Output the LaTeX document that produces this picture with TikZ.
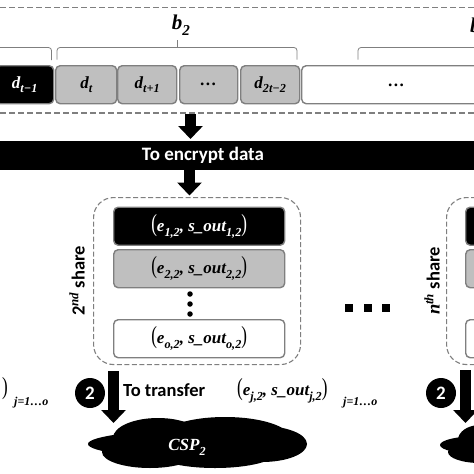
\documentclass[tikz,border=0pt]{standalone}
\usepackage{fontspec}
\setmainfont{Carlito}
\newfontfamily\mth{Liberation Serif}
\usetikzlibrary{arrows.meta}
\definecolor{lnk}{HTML}{7F7F7F}
\definecolor{cellg}{HTML}{BFBFBF}
\newcommand{\mv}[1]{{\mth\bfseries\itshape #1}}
\newcommand{\tsub}[2]{\mv{#1}\raisebox{-0.28em}{\scalebox{0.72}{\mv{#2}}}}
\tikzset{
 cell/.style={draw=lnk,line width=1.4pt,rounded corners=4.5pt,minimum height=38pt,inner sep=0pt,anchor=north west,font=\fontsize{17}{17}\selectfont},
 cblack/.style={cell,fill=black,text=white},
 cgray/.style={cell,fill=cellg,text=black},
 cwhite/.style={cell,fill=white,text=black},
 dashln/.style={draw=lnk,line width=1.2pt,dash pattern=on 6pt off 3pt},
 sharebox/.style={draw=lnk,line width=1.1pt,dash pattern=on 5pt off 2.5pt,rounded corners=20pt},
 brace/.style={draw=lnk,line width=0.8pt,rounded corners=3pt},
 blockarrow/.style={draw=black,line width=10.5pt,-{Triangle[length=13pt,width=24pt]}},
 num/.style={circle,fill=black,text=white,minimum size=30pt,inner sep=0pt,font=\fontsize{19}{19}\selectfont\bfseries},
 lab/.style={font=\fontsize{18.5}{18.5}\selectfont\bfseries,inner sep=0pt},
 mathlab/.style={font=\fontsize{17}{17}\selectfont,inner sep=0pt},
 cloudp/.style={fill=black,draw=none},
}
\newcommand{\pair}[2]{\scalebox{1.0}[1.45]{\mth(}\mv{e}\raisebox{-0.28em}{\scalebox{0.72}{\mv{#1}}}\mv{, s\_out}\raisebox{-0.28em}{\scalebox{0.72}{\mv{#2}}}\scalebox{1.0}[1.45]{\mth)}}
\begin{document}
\begin{tikzpicture}[x=1pt,y=-1pt]
\useasboundingbox (0,0) rectangle (474,474);
\clip (0,0) rectangle (474,474);
% dashed lines
\coordinate (t1) at (0,7.5); \coordinate (t2) at (474,7.5);
\coordinate (u1) at (0,113); \coordinate (u2) at (474,113);
\draw[dashln] (t1) -- (t2);
\draw[dashln] (u1) -- (u2);
% row of cells
\node[cblack,minimum width=58pt] (c0) at (-5,65) {\tsub{d}{t−1}};
\node[cgray,minimum width=61pt] (c1) at (55,65) {\tsub{d}{t}};
\node[cgray,minimum width=59pt] (c2) at (117,65) {\tsub{d}{t+1}};
\node[cgray,minimum width=58pt] (c3) at (179,65) {\mv{…}};
\node[cgray,minimum width=59pt] (c4) at (240,65) {\tsub{d}{2t−2}};
\node[cwhite,minimum width=190pt] (c5) at (301,65) {\raisebox{-3pt}{\mv{…}}};
% braces
\draw[brace] (-5,47.5) -- (51.5,47.5) -- (51.5,60);
\draw[brace] (57,59.5) -- (57,47.5) -- (297,47.5) -- (297,59.5);
\draw[brace] (177,47.5) -- (177,40);
\draw[brace] (358,59.5) -- (358,47.5) -- (480,47.5);
\node[font=\fontsize{21}{21}\selectfont,inner sep=0pt] (b2) at (181,25) {\tsub{b}{2}};
\node[font=\fontsize{21}{21}\selectfont,inner sep=0pt,anchor=west] (bn) at (470,25) {\mv{b}};
% band
\node[fill=black,text=white,minimum width=480pt,minimum height=29pt,inner sep=0pt,font=\fontsize{19}{19}\selectfont\bfseries] (band) at (237,155.5) {\hspace{-68pt}To encrypt data};
\coordinate (a0) at (190.5,114);
\draw[blockarrow] (a0) -- (190.5,139);
\coordinate (a1) at (189.5,170);
\draw[blockarrow] (band.south -| a1) -- (189.5,195.5);
% second share
\node[sharebox,minimum width=207pt,minimum height=167pt,inner sep=0pt,anchor=north west] (s2) at (93,197) {};
\node[cblack,minimum width=171pt] (e1) at (113,206.5) {\pair{1,2}{1,2}};
\node[cgray,minimum width=171pt] (e2) at (113,249) {\pair{2,2}{2,2}};
\node[cwhite,minimum width=171pt] (e3) at (113,319) {\pair{o,2}{o,2}};
\foreach \y/\n in {294/p1,304/p2,314/p3} \node[circle,fill=black,minimum size=5.5pt,inner sep=0pt] (\n) at (190,\y) {};
\node[lab,rotate=90] (l2) at (77,281) {2\textsuperscript{\mv{nd}} share};
% dots between
\foreach \x/\n in {349/q1,368/q2,386/q3} \node[fill=black,minimum size=8pt,inner sep=0pt] (\n) at (\x,308) {};
% nth share
\node[sharebox,minimum width=207pt,minimum height=167pt,inner sep=0pt,anchor=north west] (sn) at (446,197) {};
\node[cblack,minimum width=171pt] (f1) at (465,206.5) {};
\node[cgray,minimum width=171pt] (f2) at (465,249) {};
\node[cwhite,minimum width=171pt] (f3) at (465,319) {};
\node[lab,rotate=90] (ln) at (432,281) {\mv{n}\textsuperscript{\mv{th}} share};
% clouds
\path[cloudp] (197,444) ellipse (109 and 14);
\path[cloudp] (158,438) ellipse (45 and 20);
\path[cloudp] (225,438) ellipse (65 and 21);
\path[cloudp] (150,452) ellipse (48 and 16);
\path[cloudp] (215,452) ellipse (62 and 16);
\path[cloudp] (262,444) ellipse (45 and 18);
\node[text=white,font=\fontsize{17}{17}\selectfont,inner sep=0pt] (csp) at (187,447) {\mv{CSP}\raisebox{-0.28em}{\scalebox{0.72}{\mv{2}}}};
\path[cloudp] (480,445) ellipse (40 and 9);
\path[cloudp] (480,440) ellipse (22 and 15);
\path[cloudp] (480,452) ellipse (32 and 11);
% arrows to clouds
\draw[blockarrow] (s2.south -| 113.5,0) ++(0,6) coordinate (a2) -- (113.5,423);
\draw[blockarrow] (465.5,370) coordinate (a3) -- (465.5,423);
\node[num] (n2) at (90,393) {2};
\node[num] (nn) at (441,393) {2};
\node[lab,anchor=west] (tt) at (123,390) {To transfer};
\node[mathlab,anchor=west] (ff) at (237,391) {\scalebox{1.0}[1.45]{\mth(}\mv{e}\raisebox{-0.28em}{\scalebox{0.72}{\mv{j,2}}}\mv{, s\_out}\raisebox{-0.28em}{\scalebox{0.72}{\mv{j,2}}}\scalebox{1.0}[1.45]{\mth)}};
\node[inner sep=0pt,font=\fontsize{12}{12}\selectfont,anchor=west] (jj) at (343,403) {\mv{j=1…o}};
\node[mathlab,anchor=east] (fl) at (8,389) {\scalebox{1.0}[1.45]{\mth)}};
\node[inner sep=0pt,font=\fontsize{12}{12}\selectfont,anchor=west] (jl) at (14,403) {\mv{j=1…o}};
\end{tikzpicture}
\end{document}
